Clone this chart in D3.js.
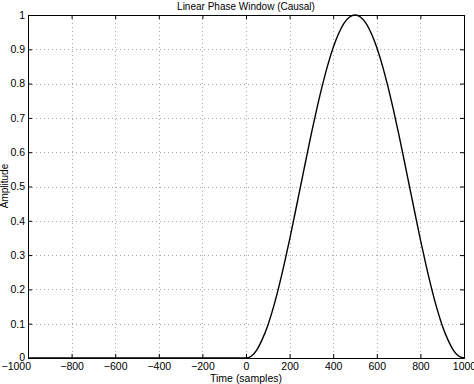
<!DOCTYPE html>
<html><head><meta charset="utf-8">
<script src="https://cdn.jsdelivr.net/npm/d3@7"></script>
<style>
html,body{margin:0;padding:0;background:#fff;}
svg{display:block;font-family:"Liberation Sans",Arial,Helvetica,sans-serif;}
</style></head>
<body>
<svg id="c" width="474" height="384"></svg>
<script>
const timeSamples = [-1000,-500,0,25,50,75,100,125,150,175,200,225,250,275,300,325,350,375,400,425,450,475,500,525,550,575,600,625,650,675,700,725,750,775,800,825,850,875,900,925,950,975,1000];
const amplitude   = [0,0,0,0.006,0.024,0.055,0.095,0.146,0.206,0.273,0.345,0.422,0.5,0.578,0.655,0.727,0.794,0.854,0.905,0.946,0.976,0.994,1,0.994,0.976,0.946,0.905,0.854,0.794,0.727,0.655,0.578,0.5,0.422,0.345,0.273,0.206,0.146,0.095,0.055,0.024,0.006,0];
const xTicks = [-1000,-800,-600,-400,-200,0,200,400,600,800,1000];
const yTicks = [0,0.1,0.2,0.3,0.4,0.5,0.6,0.7,0.8,0.9,1];
const titleText = "Linear Phase Window (Causal)";
const xLabel = "Time (samples)";
const yLabel = "Amplitude";

const svg = d3.select("#c");
const L=28,R=464,T=15,B=358;
const x = d3.scaleLinear().domain([-1000,1000]).range([L,R]);
const y = d3.scaleLinear().domain([0,1]).range([B,T]);

// grid
const g = svg.append("g");
g.selectAll(".vx").data(xTicks.slice(1,-1)).enter().append("line")
 .attr("x1",d=>Math.round(x(d))+0.5).attr("x2",d=>Math.round(x(d))+0.5).attr("y1",T).attr("y2",B)
 .attr("stroke","#aaa").attr("stroke-width",1).attr("stroke-dasharray","1,3");
g.selectAll(".hy").data(yTicks.slice(1,-1)).enter().append("line")
 .attr("y1",d=>Math.round(y(d))+0.5).attr("y2",d=>Math.round(y(d))+0.5).attr("x1",L).attr("x2",R)
 .attr("stroke","#aaa").attr("stroke-width",1).attr("stroke-dasharray","1,3");

// curve
const line = d3.line().x((d,i)=>x(timeSamples[i])).y((d,i)=>y(amplitude[i])).curve(d3.curveMonotoneX);
svg.append("path").datum(amplitude).attr("d",line).attr("fill","none").attr("stroke","#000").attr("stroke-width",1.4);

// axes
const fs="10.5px";
const ax = d3.axisBottom(x).tickValues(xTicks).tickSize(-4).tickPadding(7).tickFormat(d=>d<0?"\u2212"+(-d):d);
const axG = svg.append("g").attr("transform",`translate(0,${B})`).call(ax);
const axT = svg.append("g").attr("transform",`translate(0,${T})`).call(d3.axisTop(x).tickValues(xTicks).tickSize(-4).tickFormat(""));
const ay = d3.axisLeft(y).tickValues(yTicks).tickSize(-4).tickPadding(3).tickFormat(d3.format("~g"));
const ayG = svg.append("g").attr("transform",`translate(${L},0)`).call(ay);
const ayR = svg.append("g").attr("transform",`translate(${R},0)`).call(d3.axisRight(y).tickValues(yTicks).tickSize(-4).tickFormat(""));
[axG,axT,ayG,ayR].forEach(s=>{
  s.selectAll("path").attr("stroke","#000").attr("stroke-width",1);
  s.selectAll("line").attr("stroke","#000");
  s.selectAll("text").attr("fill","#000").style("font-size",fs).style("font-family","Liberation Sans, Arial, sans-serif");
});
axG.selectAll("text").attr("dy","0.5em");
ayG.selectAll(".tick").filter(d=>d===0).select("text").attr("dy","0.2em");
axG.selectAll(".tick").filter(d=>d===-1000).select("text").attr("text-anchor","start").attr("x",1-L);

svg.append("text").attr("x",(L+R)/2).attr("y",10).attr("text-anchor","middle").style("font-size","10px").text(titleText);
svg.append("text").attr("x",(L+R)/2).attr("y",382).attr("text-anchor","middle").style("font-size","10.5px").text(xLabel);
svg.append("text").attr("transform",`translate(8,186) rotate(-90)`).attr("text-anchor","middle").style("font-size","10px").text(yLabel);
</script>
</body></html>
